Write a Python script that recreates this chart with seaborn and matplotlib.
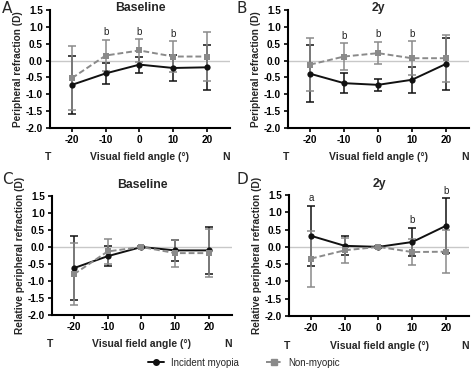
import numpy as np
import pandas as pd
import matplotlib
matplotlib.use("Agg")
import matplotlib.pyplot as plt
import seaborn as sns
from matplotlib.lines import Line2D

sns.set_theme(style="ticks")
plt.rcParams['font.family'] = ['Liberation Sans', 'DejaVu Sans']

angles = [-20, -10, 0, 10, 20]
tick_labels = ["-20", "-10", "0", "10", "20"]

# Panel A: Baseline peripheral refraction
a_myo = [-0.72, -0.38, -0.12, -0.22, -0.20]
a_myo_sd = [0.85, 0.32, 0.24, 0.40, 0.67]
a_non = [-0.52, 0.15, 0.30, 0.12, 0.12]
a_non_sd = [0.95, 0.47, 0.33, 0.45, 0.73]

# Panel B: 2y peripheral refraction
b_myo = [-0.39, -0.67, -0.72, -0.57, -0.10]
b_myo_sd = [0.84, 0.30, 0.17, 0.38, 0.78]
b_non = [-0.12, 0.12, 0.22, 0.07, 0.07]
b_non_sd = [0.78, 0.39, 0.33, 0.50, 0.70]

# Panel C: Baseline relative peripheral refraction
c_myo = [-0.62, -0.27, 0.0, -0.10, -0.10]
c_myo_sd = [0.93, 0.29, 0.02, 0.31, 0.70]
c_non = [-0.80, -0.13, 0.0, -0.18, -0.18]
c_non_sd = [0.92, 0.38, 0.02, 0.40, 0.70]

# Panel D: 2y relative peripheral refraction
d_myo = [0.32, 0.03, 0.0, 0.14, 0.61]
d_myo_sd = [0.87, 0.27, 0.02, 0.41, 0.79]
d_non = [-0.34, -0.10, 0.0, -0.15, -0.14]
d_non_sd = [0.81, 0.36, 0.02, 0.38, 0.62]

# Significance letters
a_marks = [(-10, "b"), (0, "b"), (10, "b")]
b_marks = [(-10, "b"), (0, "b"), (10, "b")]
d_marks = [(-20, "a"), (10, "b"), (20, "b")]

BLACK = "#111111"
GREY = "#8a8a8a"

W, H = 474, 374
fig = plt.figure(figsize=(W / 100, H / 100), dpi=100)
fig.patch.set_facecolor("white")

positions = {
    "A": [50/W, (H-128)/H, 180/W, 118/H],
    "B": [288/W, (H-128)/H, 181/W, 118/H],
    "C": [52/W, (H-315)/H, 180/W, 119/H],
    "D": [289/W, (H-316)/H, 180/W, 121/H],
}
# title centre y (pixels from top) and panel letter x/top (pixels)
title_y = {"A": 8, "B": 8, "C": 185, "D": 184}
letter_xy = {"A": (2, 1), "B": (236, 1), "C": (2, 172), "D": (236, 172)}

panels = [
    ("A", "Baseline", "Peripheral refraction (D)", a_myo, a_myo_sd, a_non, a_non_sd, a_marks),
    ("B", "2y", "Peripheral refraction (D)", b_myo, b_myo_sd, b_non, b_non_sd, b_marks),
    ("C", "Baseline", "Relative peripheral refraction (D)", c_myo, c_myo_sd, c_non, c_non_sd, []),
    ("D", "2y", "Relative peripheral refraction (D)", d_myo, d_myo_sd, d_non, d_non_sd, d_marks),
]

for letter, title, ylabel, myo, myo_sd, non, non_sd, marks in panels:
    bb = positions[letter]
    ax = fig.add_axes(bb)
    ax.set_facecolor("white")
    ax.axhline(0, color="#c8c8c8", lw=1.0, zorder=0)

    df = pd.DataFrame({
        "angle": angles * 2,
        "value": myo + non,
        "group": ["Incident myopia"] * 5 + ["Non-myopic"] * 5,
    })
    ax.errorbar(angles, myo, yerr=myo_sd, fmt="none", ecolor=BLACK,
                elinewidth=1.1, capsize=3, capthick=1.1, zorder=2)
    ax.errorbar(angles, non, yerr=non_sd, fmt="none", ecolor=GREY,
                elinewidth=1.1, capsize=3, capthick=1.1, zorder=3)
    sns.lineplot(data=df, x="angle", y="value", hue="group", style="group",
                 palette={"Incident myopia": BLACK, "Non-myopic": GREY},
                 markers={"Incident myopia": "o", "Non-myopic": "s"},
                 dashes={"Incident myopia": "", "Non-myopic": (3, 1.5)},
                 markersize=4.5, markeredgewidth=0, linewidth=1.4,
                 legend=False, ax=ax, zorder=4)

    ax.set_xlim(-26.5, 26.8)
    ax.set_ylim(-2.0, 1.5)
    ax.set_yticks([-2.0, -1.5, -1.0, -0.5, 0.0, 0.5, 1.0, 1.5])
    ax.set_yticklabels(["-2.0", "-1.5", "-1.0", "-0.5", "0.0", "0.5", "1.0", "1.5"])
    ax.set_xticks(angles)
    ax.set_xticklabels(tick_labels)
    for s in ["top", "right"]:
        ax.spines[s].set_visible(False)
    for s in ["left", "bottom"]:
        ax.spines[s].set_linewidth(1.5)
        ax.spines[s].set_color("black")
    ax.tick_params(axis="both", direction="out", length=3, width=1.2,
                   labelsize=7.2, colors="black", pad=2)
    for lab in ax.get_xticklabels() + ax.get_yticklabels():
        lab.set_fontweight("bold")
    ax.set_xlabel("")
    ax.set_ylabel(ylabel, fontsize=7.3, fontweight="bold", labelpad=2)

    # title
    fig.text(bb[0] + bb[2] / 2, 1 - title_y[letter] / H, title,
             fontsize=8.8, fontweight="bold", ha="center", va="center")

    ax.text(-0.01, -0.245, "T", transform=ax.transAxes, fontsize=7.5,
            fontweight="bold", ha="center", va="center")
    ax.text(0.5, -0.245, "Visual field angle (°)", transform=ax.transAxes,
            fontsize=7.5, fontweight="bold", ha="center", va="center")
    ax.text(0.98, -0.245, "N", transform=ax.transAxes, fontsize=7.5,
            fontweight="bold", ha="center", va="center")

    for ang, txt in marks:
        i = angles.index(ang)
        top = max(myo[i] + myo_sd[i], non[i] + non_sd[i])
        ax.text(ang, top + 0.08, txt, fontsize=7, ha="center", va="bottom",
                color="#222222")

    lx, ly = letter_xy[letter]
    fig.text(lx / W, 1 - ly / H, letter, fontsize=11, family="DejaVu Sans",
             ha="left", va="top")

handles = [
    Line2D([0], [0], color=BLACK, lw=1.4, marker="o", markersize=4),
    Line2D([0], [0], color=GREY, lw=1.4, ls=(0, (3, 1.5)), marker="s", markersize=4),
]
fig.legend(handles, ["Incident myopia", "Non-myopic"], loc="center",
           bbox_to_anchor=(0.515, 0.03), ncol=2, frameon=False, fontsize=7,
           handlelength=1.6, columnspacing=2.8, handletextpad=0.7)

fig.savefig("out.png", dpi=100, facecolor="white")
